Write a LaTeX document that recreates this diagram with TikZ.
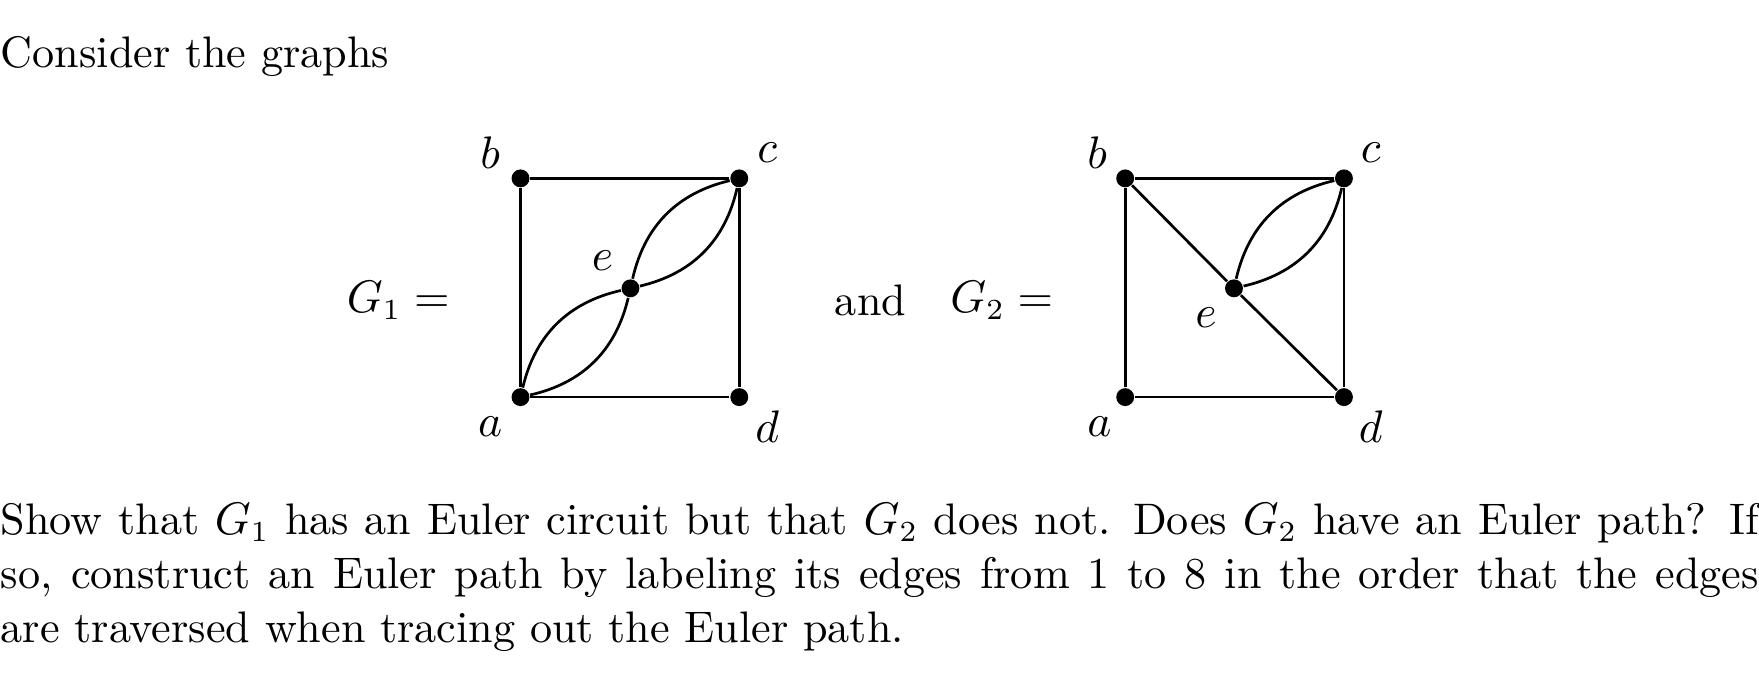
\documentclass[tikz,border=0pt]{standalone}
\begin{document}
\begin{tikzpicture}[x=0.2693pt,y=-0.2693pt,
  vtx/.style={circle,fill=black,inner sep=0pt,minimum size=4.3pt},
  edge/.style={line width=0.65pt},
  lbl/.style={inner sep=0pt}]
\useasboundingbox (0,0) rectangle (1568,623);
\fontsize{10.6}{12.9}\selectfont
\node[anchor=base west,inner sep=0pt] (title) at (0,60) {\fontsize{10.6}{12.9}\selectfont Consider the graphs};
% G1
\node[vtx] (a1) at (464,354) {};
\node[vtx] (b1) at (464,159) {};
\node[vtx] (c1) at (659,159) {};
\node[vtx] (d1) at (659,354) {};
\node[vtx] (e1) at (562,257) {};
\draw[edge] (a1)--(b1)--(c1)--(d1)--(a1);
\draw[edge] (a1) to[bend left=32] (e1);
\draw[edge] (a1) to[bend right=32] (e1);
\draw[edge] (e1) to[bend left=32] (c1);
\draw[edge] (e1) to[bend right=32] (c1);
\node[lbl] (la1) at (437,380) {\fontsize{10.6}{12.9}\selectfont $a$};
\node[lbl] (lb1) at (437,136) {\fontsize{10.6}{12.9}\selectfont $b$};
\node[lbl] (lc1) at (684,136) {\fontsize{10.6}{12.9}\selectfont $c$};
\node[lbl] (ld1) at (684,380) {\fontsize{10.6}{12.9}\selectfont $d$};
\node[lbl] (le1) at (537,232) {\fontsize{10.6}{12.9}\selectfont $e$};
\node[lbl] (G1) at (355,268) {\fontsize{10.6}{12.9}\selectfont $G_1=$};
\node[lbl] (and) at (776,268) {\fontsize{10.6}{12.9}\selectfont and};
\node[lbl] (G2) at (893,268) {\fontsize{10.6}{12.9}\selectfont $G_2=$};
% G2
\node[vtx] (a2) at (1003,354) {};
\node[vtx] (b2) at (1003,159) {};
\node[vtx] (c2) at (1198,159) {};
\node[vtx] (d2) at (1198,354) {};
\node[vtx] (e2) at (1100,257) {};
\draw[edge] (a2)--(b2)--(c2)--(d2)--(a2);
\draw[edge] (b2)--(e2)--(d2);
\draw[edge] (e2) to[bend left=32] (c2);
\draw[edge] (e2) to[bend right=32] (c2);
\node[lbl] (la2) at (980,380) {\fontsize{10.6}{12.9}\selectfont $a$};
\node[lbl] (lb2) at (978,136) {\fontsize{10.6}{12.9}\selectfont $b$};
\node[lbl] (lc2) at (1222,136) {\fontsize{10.6}{12.9}\selectfont $c$};
\node[lbl] (ld2) at (1222,380) {\fontsize{10.6}{12.9}\selectfont $d$};
\node[lbl] (le2) at (1075,283) {\fontsize{10.6}{12.9}\selectfont $e$};
% paragraph
\node[anchor=north west,inner sep=0pt,text width=422pt,align=justify] (para) at (0,448)
{\fontsize{10.6}{12.9}\selectfont Show that $G_1$ has an Euler circuit but that $G_2$ does not. Does $G_2$ have an Euler path? If\linebreak so, construct an Euler path by labeling its edges from 1 to 8 in the order that the edges\linebreak are traversed when tracing out the Euler path.};
\end{tikzpicture}
\end{document}
